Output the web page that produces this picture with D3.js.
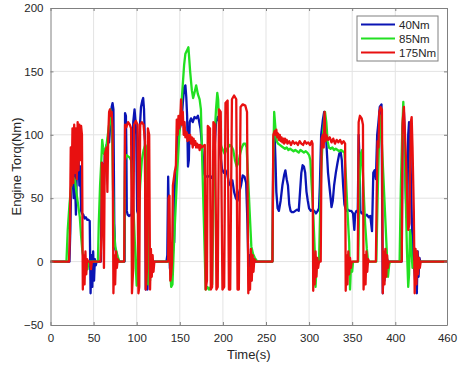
<!DOCTYPE html>
<html>
<head>
<meta charset="utf-8">
<script src="https://cdn.jsdelivr.net/npm/d3@7"></script>
<style>
  body { margin: 0; background: #fff; }
  text { font-family: "Liberation Sans", Arial, sans-serif; fill: #262626; }
</style>
</head>
<body>
<div id="chart"></div>
<script>
const width = 474;
const height = 367;
const margin = {left: 50.5, top: 8, right: 27, bottom: 42};

const xTicks = [0, 50, 100, 150, 200, 250, 300, 350, 400, 460];
const yTicks = [-50, 0, 50, 100, 150, 200];
const seriesNames = ["40Nm", "85Nm", "175Nm"];
const seriesColors = ["#0a14b4", "#22e022", "#e81010"];

// 40Nm
const torque40 = [
  [0,0],[22,0],[23,25],[24,60],[25,80],[26,70],[27,50],[28,75],[29.5,37],[30.5,70],[31.5,85],[32.5,80],
  [33.5,60],[34.5,75],[35.5,40],[36.5,38],[38,37],[39.5,34],[41,35],[42.5,33],[44,33],[45.5,32],
  [46.5,-25],[47.5,5],[48.5,-20],[49.5,8],[50.5,-15],[51.5,2],[52.5,-3],[53.5,0],
  [58.5,0],[59.5,78],[61,75],[62,60],[63,85],[65,92],[66,90],[67,100],[68,94],[69,105],[70,112],
  [71,122],[72,125],[73,120],[74,30],[75,10],[76,8],[77,5],[78,2],[79,0],
  [86,0],[86.5,117],[87.5,115],[88,90],[88.5,40],[89.5,37],[91,36],[93,37],[94,36],[95,60],[96,110],
  [97.5,120],[98.5,112],[99.5,100],[100.5,40],[101.5,38],[102.5,90],[104,110],[105,122],[106.5,127],
  [107.5,129],[108.5,120],[109.5,95],[110.5,-22],[111.5,-10],[112.5,-22],[113.5,5],[114.5,-8],[115.5,0],
  [134.5,0],[135.5,5],[136.5,67],[137.5,30],[138.5,-5],[139.5,-10],[140.5,5],[141.5,-8],[142.5,20],
  [143.5,15],[144.5,72],[145.5,70],[146.5,80],[148,100],[150,105],[152,110],[153.5,125],[155,137],
  [156.5,139],[157.5,130],[158.5,115],[159.5,75],[160.5,80],[161.5,110],[163,113],[165,110],[167,114],
  [169,113],[171,115],[172,112],[174,105],[176,90],[178,70],[179,68],[181,67],[183,67],[185,68],
  [187,66],[189,68],[190.5,90],[192,110],[194,114],[195.5,112],[197,85],[199,73],[201,70],[203,72],
  [205,69],[207,62],[209,60],[211,64],[213,55],[215,50],[217,48],[219,55],[221,60],[223,68],[225,67],
  [227,62],[228.5,30],[229.5,0],[230.5,-22],[231.5,5],[232.5,-15],[233.5,3],[234.5,-5],[235.5,0],
  [257.5,0],[258.5,95],[260,100],[261,80],[262,55],[263.5,42],[265,40],[267,48],[269,60],[271,68],
  [272.5,72],[274,65],[275.5,60],[277,45],[278.5,40],[280,39],[282,39],[284,40],[286,41],[288,40],
  [289.5,55],[291,70],[292.5,76],[294,75],[295.5,70],[297,55],[298.5,48],[300,42],[302,40],[304,41],
  [306,40],[308,38],[310,40],[311.5,42],[312.5,60],[314,100],[316,112],[317.5,118],[319,110],
  [320.5,88],[322,70],[323.5,60],[325,50],[326,43],[327.5,48],[329,60],[331,70],[333,78],[335,85],
  [336.5,87],[338,80],[339.5,60],[341,45],[343,40],[345,41],[347,40],[349,40],[351,38],[352.5,25],
  [353.5,38],[355,40],[356.5,40],[357.5,100],[358.5,80],[359.5,40],[361,38],[363,38],[365,36],
  [367,37],[369,35],[371,36],[373,24],[374.5,70],[376,72],[377.5,65],[379,100],[380.5,110],[382,122],
  [384,124],[385.5,-25],[386.5,5],[387.5,-15],[388.5,6],[389.5,-8],[390.5,2],[391.5,0],
  [407.5,0],[408.5,105],[410,118],[411,100],[412,60],[413,35],[414,40],[415,100],[416,110],[417,105],
  [418,70],[419,40],[420,10],[421,0],[422,-5],[423,-15],[424,5],[425,-25],[426,8],[427,-12],[428,3],
  [429,0],[460,0]
];

// 85Nm
const torque85 = [
  [0,0],[18.5,0],[20,25],[22,45],[24,60],[25.5,64],[27,66],[28.5,64],[30,55],[32,45],[34,35],
  [35.5,20],[37,8],[38.5,2],[40,-2],[41,-8],[42,-3],[43,-6],[44,0],
  [55,0],[56,30],[57.5,60],[59,80],[60,96],[61,90],[62,85],[63.5,88],[65,92],[66.5,100],[68,108],
  [69.5,120],[70.5,112],[71.5,100],[72.5,60],[73.5,30],[75,12],[76.5,8],[78,4],[80,0],
  [85.5,0],[86.5,80],[88,84],[90,83],[92,82],[93.5,80],[95,60],[97,30],[99,-5],[100,-19],[101,-10],
  [102,30],[104,60],[106,80],[108,88],[110,92],[111.5,90],[112.5,60],[113.5,-18],[114.5,-5],
  [115.5,-15],[116.5,0],
  [138.5,0],[140,-20],[141.5,-18],[143,10],[145,40],[147,70],[149,95],[151,115],[153,135],[155,155],
  [156.5,164],[158,166],[160,169],[162,150],[164,135],[165.5,129],[167,133],[169,139],[171,132],
  [173,128],[174.5,120],[176,80],[178,30],[180,-22],[182,-20],[184,-22],[186,-20],[187.5,-18],
  [189,40],[190.5,100],[192,120],[193.5,133],[194.5,128],[196,100],[198,91],[200,88],[202,85],
  [204,88],[206,90],[208,92],[210,91],[212,88],[214,80],[216,75],[218,78],[220,85],[222,90],
  [224,93],[226,93],[227.5,90],[229,70],[231,40],[233,12],[235,6],[237,3],[239,1],[240,0],
  [257.5,0],[258.5,80],[259.5,118],[261,105],[262.5,95],[264,93],[266,92],[268,91],[270,90],
  [272,89],[274,90],[276,88],[278,89],[280,88],[282,87],[284,88],[286,87],[288,86],[290,88],
  [292,87],[294,86],[296,87],[298,86],[300,84],[301.5,80],[303,60],[305,35],[306.5,10],[307.5,-20],
  [308.5,-5],[310,-2],[311.5,0],[312.5,30],[314,70],[316,100],[318.5,118],[320,110],[321.5,95],
  [323,90],[325,89],[327,90],[329,88],[331,89],[333,88],[335,87],[337,88],[339,87],[341,86],
  [342.5,70],[344.5,40],[346.5,15],[347.5,-22],[348.5,-5],[350,-8],[351,0],
  [357,0],[358.5,60],[360,85],[361.5,88],[363,60],[365,30],[367,10],[368.5,0],
  [378,0],[379.5,50],[381,90],[382.5,115],[384,100],[386,70],[388,40],[390,10],[391.5,-12],
  [393,-2],[394,0],
  [405,0],[406.5,60],[408,100],[409.3,126],[410.5,100],[412,55],[413.5,10],[415,-20],[416,-10],
  [417,25],[418,20],[419,5],[420,-5],[422,0],[460,0]
];

// 175Nm
const torque175 = [
  [0,0],[21.5,0],[22.5,22],[23.5,90],[24.5,60],[25.5,105],[26.5,62],[27.5,108],[28.5,70],[29.5,105],
  [30.5,65],[31.5,110],[32.5,72],[33.5,108],[34.5,80],[35.5,107],[36.5,100],[37.5,-22],[38.5,5],
  [39.5,-18],[40.5,8],[41.5,-10],[42.5,2],[43.5,0],[46,0],[47,-6],[48,0],
  [58,0],[59,20],[59.5,78],[61,75],[62,-5],[63,85],[65,90],[66,55],[67,100],[68,118],[69,120],
  [70,115],[71,118],[72,105],[73,-25],[74,5],[75,-18],[76,8],[77,-5],[78,2],[79,0],
  [85.5,0],[86.5,108],[88,106],[90,110],[92,108],[93.5,105],[94.5,-25],[96,-5],[97,108],[99,111],
  [101,108],[102,-25],[103,-20],[104,108],[106,110],[108,108],[109.5,95],[110.5,-22],[112,-5],
  [113,105],[114.5,100],[115.5,-22],[116.5,10],[117.5,-12],[118.5,5],[119.5,-8],[120.5,0],
  [136.5,0],[137,50],[138,52],[139,-15],[140,-10],[141,0],[142,60],[143,65],[144,70],[145.5,76],
  [146.5,112],[147.5,100],[148.5,115],[149.5,105],[150.5,112],[151.5,128],[152.5,108],[153.5,118],
  [154.5,100],[155.5,110],[156.5,98],[158,102],[159,95],[160,100],[161,96],[162,100],[163,93],
  [164,98],[165,90],[166,97],[167,92],[168,95],[169,90],[170,93],[171,90],[172,92],[173,88],
  [174,92],[175,90],[177,91],[179,92],
  [180,-22],[181.5,-15],[182.5,107],[185,105],[186,-22],[187.5,-20],[189,110],[191,108],[192.5,-22],
  [194,-20],[195.5,120],[197.5,118],[199.5,-22],[201.5,-20],[203,125],[205.5,127],[207,-22],
  [208.5,-22],[210.5,128],[213,131],[215.5,128],[217,-22],[218.5,-22],[220.5,122],[223,124],
  [226,123],[228,118],[229.5,-25],[230.5,-5],[231.5,-22],[232.5,10],[233.5,-15],[234.5,5],
  [235.5,-8],[236.5,2],[238,0],
  [257.5,0],[258.5,100],[260,103],[261,100],[262,104],[263,98],[264,101],[265,96],[266,100],[267,95],
  [268,98],[269,94],[270,97],[271,93],[272,97],[273,94],[274,96],[275,93],[277,95],[279,92],[281,95],
  [283,93],[285,94],[287,92],[289,95],[291,93],[293,92],[295,95],[297,93],[299,94],[301,92],[303,95],
  [304,93],[304.8,-23],[305.5,5],[306.5,-18],[307.5,8],[308.5,-12],[309.5,3],[310.5,-5],[311.5,0],
  [313.5,0],[314.5,97],[316,100],[317,90],[318,118],[319,95],[320,100],[322,96],[324,98],[326,94],
  [328,97],[330,93],[332,96],[334,94],[336,96],[338,93],[340,95],[341.8,93],[342.5,-23],[343.5,5],
  [344.5,-18],[345.5,8],[346.5,-10],[347.5,3],[348.5,-5],[349.5,0],
  [356.5,0],[357.5,110],[359,115],[361,113],[362.5,108],[363.2,-22],[364.5,5],[365.5,-18],[366.5,8],
  [367.5,-8],[368.5,2],[369.5,0],
  [377.5,0],[378.5,55],[379.5,95],[380.5,90],[381.5,118],[383,122],[384.5,120],[385.5,-25],
  [386.5,8],[387.5,-18],[388.5,10],[389.5,-12],[390.5,5],[391.5,-5],[392.5,0],
  [407.5,0],[408.5,110],[410,122],[411,105],[413,70],[415,25],[416.5,30],[418,110],[419,114],
  [420,90],[421.5,40],[422.5,-25],[423.5,10],[424.5,-18],[425.5,8],[426.5,-10],[427.5,3],
  [428.5,-5],[429.5,0],[460,0]
];

const allSeries = [torque40, torque85, torque175];

let svg = d3.select("#chart").append("svg")
    .attr("width", width)
    .attr("height", height);

let x = d3.scaleLinear()
    .domain([0, 460])
    .range([margin.left, width - margin.right]);

let y = d3.scaleLinear()
    .domain([-50, 200])
    .range([height - margin.bottom, margin.top]);

// grid
svg.append("g")
    .selectAll("line.vgrid")
    .data(xTicks.slice(1, -1))
    .enter().append("line")
    .attr("x1", d => x(d)).attr("x2", d => x(d))
    .attr("y1", y(-50)).attr("y2", y(200))
    .attr("stroke", "#e3e3e3").attr("stroke-width", 1);

svg.append("g")
    .selectAll("line.hgrid")
    .data(yTicks.slice(1, -1))
    .enter().append("line")
    .attr("x1", x(0)).attr("x2", x(460))
    .attr("y1", d => y(d)).attr("y2", d => y(d))
    .attr("stroke", "#e3e3e3").attr("stroke-width", 1);

// lines
let line = d3.line()
    .x(d => x(d[0]))
    .y(d => y(d[1]));

svg.append("g")
    .selectAll("path")
    .data(allSeries)
    .enter().append("path")
    .attr("d", line)
    .attr("fill", "none")
    .attr("stroke", (d, i) => seriesColors[i])
    .attr("stroke-width", 2.3)
    .attr("stroke-linejoin", "round");

// axes (MATLAB style box, inward ticks)
let xAxis = svg.append("g")
    .attr("transform", `translate(0,${y(-50)})`)
    .call(d3.axisBottom(x).tickValues(xTicks).tickSizeInner(-3).tickSizeOuter(0).tickPadding(9));

let yAxis = svg.append("g")
    .attr("transform", `translate(${x(0)},0)`)
    .call(d3.axisLeft(y).tickValues(yTicks).tickSizeInner(-3).tickSizeOuter(0).tickPadding(7));

svg.append("g")
    .attr("transform", `translate(0,${y(200)})`)
    .call(d3.axisTop(x).tickValues(xTicks).tickSizeInner(-3).tickSizeOuter(0).tickFormat(""));

svg.append("g")
    .attr("transform", `translate(${x(460)},0)`)
    .call(d3.axisRight(y).tickValues(yTicks).tickSizeInner(-3).tickSizeOuter(0).tickFormat(""));

svg.selectAll(".domain, .tick line")
    .attr("stroke", "#808080");

svg.selectAll(".tick text")
    .style("font-size", "11.5px")
    .attr("fill", "#262626");

// axis titles
svg.append("text")
    .attr("x", (x(0) + x(460)) / 2)
    .attr("y", 359)
    .attr("text-anchor", "middle")
    .style("font-size", "13px")
    .text("Time(s)");

svg.append("text")
    .attr("transform", `translate(21, ${(y(-50) + y(200)) / 2}) rotate(-90)`)
    .attr("text-anchor", "middle")
    .style("font-size", "13px")
    .text("Engine Torq(Nm)");

// legend
let legend = svg.append("g")
    .attr("transform", "translate(357,16)");

legend.append("rect")
    .attr("width", 81)
    .attr("height", 45)
    .attr("fill", "#fff")
    .attr("stroke", "#808080")
    .attr("stroke-width", 1);

let items = legend.selectAll("g.item")
    .data(seriesNames)
    .enter().append("g")
    .attr("transform", (d, i) => `translate(0,${8.5 + i * 14})`);

items.append("line")
    .attr("x1", 4).attr("x2", 38)
    .attr("y1", 0).attr("y2", 0)
    .attr("stroke", (d, i) => seriesColors[i])
    .attr("stroke-width", 2);

items.append("text")
    .attr("x", 42)
    .attr("y", 4)
    .style("font-size", "11.5px")
    .text(d => d);
</script>
</body>
</html>
